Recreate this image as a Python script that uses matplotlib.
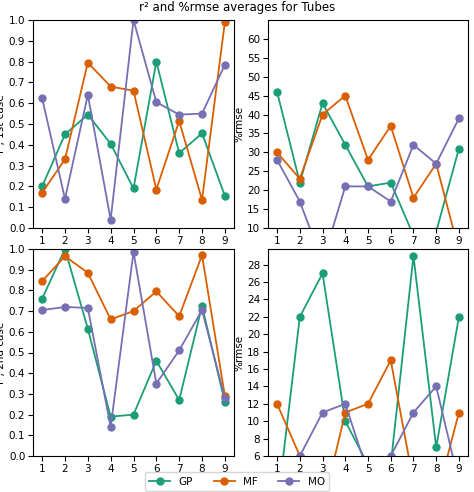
import matplotlib
matplotlib.use("Agg")
import matplotlib.pyplot as plt

x = [1, 2, 3, 4, 5, 6, 7, 8, 9]
series = ["GP", "MF", "MO"]
colors = ["#1b9e77", "#d95f02", "#7570b3"]

r2_1 = {"GP": [0.20, 0.45, 0.545, 0.405, 0.19, 0.80, 0.36, 0.455, 0.155],
        "MF": [0.17, 0.33, 0.795, 0.68, 0.66, 0.185, 0.515, 0.135, 0.99],
        "MO": [0.625, 0.14, 0.64, 0.04, 1.0, 0.605, 0.545, 0.55, 0.785]}
rm_1 = {"GP": [46, 22, 43, 32, 21, 22, 8, 9, 31],
        "MF": [30, 23, 40, 45, 28, 37, 18, 27, 4],
        "MO": [28, 17, 1, 21, 21, 17, 32, 27, 39]}
r2_2 = {"GP": [0.76, 1.0, 0.615, 0.19, 0.20, 0.46, 0.27, 0.725, 0.26],
        "MF": [0.845, 0.965, 0.885, 0.66, 0.70, 0.795, 0.675, 0.97, 0.29],
        "MO": [0.705, 0.72, 0.715, 0.14, 0.985, 0.35, 0.51, 0.705, 0.28]}
rm_2 = {"GP": [0, 22, 27, 10, 5, 5, 29, 7, 22],
        "MF": [12, 6, 0, 11, 12, 17, 3, 1, 11],
        "MO": [3, 6, 11, 12, 4, 6, 11, 14, 3]}

W, H = 474, 492
fig = plt.figure(figsize=(W/100, H/100), dpi=100)
def box(l, t, r, b):
    return [l/W, 1-b/H, (r-l)/W, (b-t)/H]
axs = [[fig.add_axes(box(33, 20, 234, 228)), fig.add_axes(box(268, 20, 468, 228))],
       [fig.add_axes(box(33, 249, 234, 456)), fig.add_axes(box(268, 249, 468, 456))]]
data = [[r2_1, rm_1], [r2_2, rm_2]]
for i in range(2):
    for j in range(2):
        ax = axs[i][j]
        for s, c in zip(series, colors):
            ax.plot(x, data[i][j][s], marker="o", color=c, ms=5, lw=1.3, label=s)
        ax.set_xticks(x)
        ax.tick_params(labelsize=7.5, pad=2)
for a in (axs[0][0], axs[1][0]):
    a.set_ylim(0, 1)
    a.set_yticks([k/10 for k in range(11)])
axs[0][0].set_ylabel("r², 1st case", fontsize=7.5, labelpad=2)
axs[1][0].set_ylabel("r², 2nd case", fontsize=7.5, labelpad=2)
axs[0][1].set_ylim(10, 65)
axs[0][1].set_yticks(range(10, 61, 5))
axs[1][1].set_ylim(6, 29.8)
axs[1][1].set_yticks(range(6, 29, 2))
axs[0][1].set_ylabel("%rmse", fontsize=7.5, labelpad=2)
axs[1][1].set_ylabel("%rmse", fontsize=7.5, labelpad=2)
fig.suptitle("r² and %rmse averages for Tubes", fontsize=8.5, y=0.997)
h, l = axs[0][0].get_legend_handles_labels()
fig.legend(h, l, loc="lower center", ncol=3, fontsize=7.5, bbox_to_anchor=(0.5, -0.008))
fig.savefig("out.png")
